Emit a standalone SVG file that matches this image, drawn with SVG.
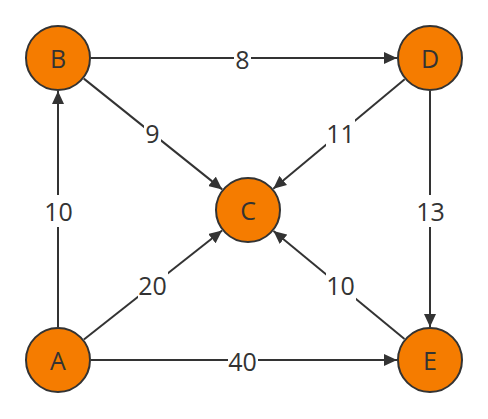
<svg xmlns="http://www.w3.org/2000/svg" width="488" height="419" viewBox="0 0 488 419">
<style>
.node circle{fill:#f57c00;stroke:#333;stroke-width:2}
.node text{font-family:"Open Sans","DejaVu Sans",sans-serif;font-size:25px;fill:#333;text-anchor:middle;dominant-baseline:central}
.edge line{stroke:#333;stroke-width:2;marker-end:url(#arr)}
.lbl rect{fill:#fff}
.lbl text{font-family:"Open Sans","DejaVu Sans",sans-serif;font-size:25px;fill:#333;text-anchor:middle;dominant-baseline:central}
</style>
<defs>
<marker id="arr" markerUnits="userSpaceOnUse" markerWidth="14" markerHeight="12" refX="13" refY="6" orient="auto">
<path d="M0,0 L13,6 L0,12 Z" fill="#333"/>
</marker>
</defs>
<rect width="488" height="419" fill="#fff"/>
<g id="connectors">
<g class="edge">
<line x1="58" y1="327" x2="58" y2="91"/>
<line x1="91" y1="58" x2="397" y2="58"/>
<line x1="430" y1="91" x2="430" y2="327"/>
<line x1="91" y1="360" x2="397" y2="360"/>
<line x1="83.8" y1="78.6" x2="222.2" y2="189.4"/>
<line x1="404.7" y1="79.2" x2="273.3" y2="188.8"/>
<line x1="83.9" y1="339.5" x2="222.1" y2="230.5"/>
<line x1="404.5" y1="339" x2="273.5" y2="231"/>
</g>
<g class="lbl">
<rect x="234" y="43" width="17" height="32"/><text x="242.5" y="59">8</text>
<rect x="144" y="117" width="17" height="32"/><text x="152.5" y="133">9</text>
<rect x="326" y="117" width="29" height="32"/><text x="340.5" y="133">11</text>
<rect x="44" y="195" width="30" height="32"/><text x="58.5" y="211">10</text>
<rect x="416" y="195" width="30" height="32"/><text x="430.5" y="211">13</text>
<rect x="138" y="269" width="30" height="32"/><text x="152.5" y="285">20</text>
<rect x="326" y="269" width="30" height="32"/><text x="340.5" y="285">10</text>
<rect x="228" y="345" width="30" height="32"/><text x="242.5" y="361">40</text>
</g>
</g>
<g id="node-B" class="node"><circle cx="58" cy="58" r="32"/><text x="58" y="58">B</text></g>
<g id="node-D" class="node"><circle cx="430" cy="58" r="32"/><text x="430" y="58">D</text></g>
<g id="node-C" class="node"><circle cx="248" cy="210" r="32"/><text x="248" y="210">C</text></g>
<g id="node-A" class="node"><circle cx="58" cy="360" r="32"/><text x="58" y="360">A</text></g>
<g id="node-E" class="node"><circle cx="430" cy="360" r="32"/><text x="430" y="360">E</text></g>
</svg>
